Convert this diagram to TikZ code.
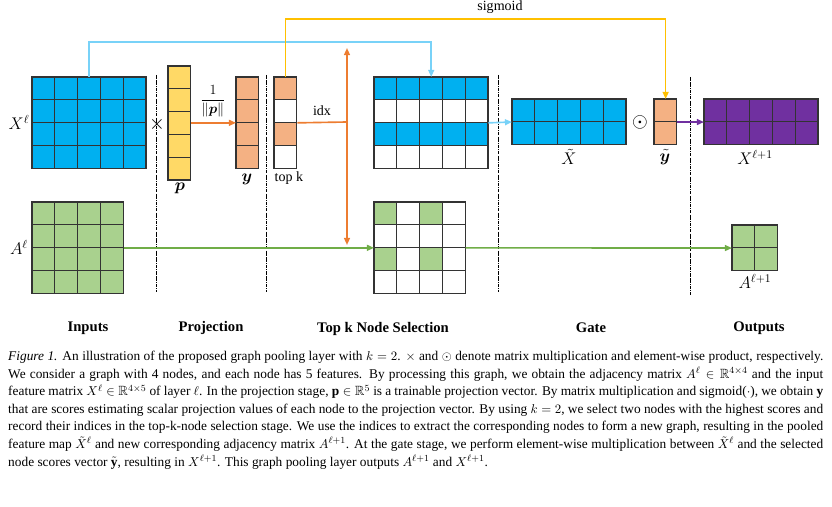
\documentclass[tikz,border=0pt]{standalone}
\usepackage{amsmath,amssymb,bm}
\usepackage{fontspec}
\setmainfont{Liberation Serif}
\usetikzlibrary{arrows.meta}

\definecolor{cblue}{RGB}{0,176,240}
\definecolor{lblue}{RGB}{120,210,248}
\definecolor{cyellow}{RGB}{255,217,102}
\definecolor{lyellow}{RGB}{255,192,0}
\definecolor{corange}{RGB}{244,177,131}
\definecolor{lorange}{RGB}{237,125,49}
\definecolor{cgreen}{RGB}{169,209,142}
\definecolor{lgreen}{RGB}{112,173,71}
\definecolor{cpurple}{RGB}{112,48,160}

\def\cw{22.8}
% grid lines of a block, plus a named node over its extent
\newcommand{\gridbox}[5]{%
  \foreach \i in {1,...,#4}
    \foreach \j in {1,...,#5}
      \draw[cell] ({#2+(\i-1)*\cw},{#3+(\j-1)*\cw}) rectangle ++(\cw,\cw);
  \node[inner sep=0pt, minimum width={#4*\cw*0.03cm}, minimum height={#5*\cw*0.03cm},
        anchor=north west] (#1) at (#2,#3) {};}
% one filled cell
\newcommand{\fillcell}[4]{%
  \fill[#4] ({#1+(#2-1)*\cw},{#3}) rectangle ++(\cw,\cw);}

\begin{document}
\begin{tikzpicture}[
    x=0.03cm, y=-0.03cm,
    >={Triangle[length=6pt,width=5pt]},
    cell/.style={draw=black!80, line width=1pt},
    stage/.style={font=\bfseries\fontsize{12.5}{15}\selectfont},
    sep/.style={densely dash dot, line width=0.6pt},
    link/.style={line width=1.4pt},
  ]
  \useasboundingbox (0,0) rectangle (832,507);

  % fills
  \fill[cblue] (32,77) rectangle ++(5*\cw,4*\cw);
  \fill[cyellow] (168,66) rectangle ++(\cw,5*\cw);
  \fill[corange] (236,77) rectangle ++(\cw,4*\cw);
  \fill[corange] (274,77) rectangle ++(\cw,\cw);
  \fill[corange] (274,{77+2*\cw}) rectangle ++(\cw,\cw);
  \fill[cgreen] (32,202) rectangle ++(4*\cw,4*\cw);
  \fill[cblue] (374,77) rectangle ++(5*\cw,\cw);
  \fill[cblue] (374,{77+2*\cw}) rectangle ++(5*\cw,\cw);
  \foreach \c in {1,3}{
    \fillcell{374}{\c}{202}{cgreen}
    \fillcell{374}{\c}{{202+2*\cw}}{cgreen}
  }
  \fill[cblue] (512,99) rectangle ++(5*\cw,2*\cw);
  \fill[corange] (654,99) rectangle ++(\cw,2*\cw);
  \fill[cpurple] (704,99) rectangle ++(5*\cw,2*\cw);
  \fill[cgreen] (732,225) rectangle ++(2*\cw,2*\cw);

  % blocks
  \gridbox{Xin}{32}{77}{5}{4}
  \gridbox{pvec}{168}{66}{1}{5}
  \gridbox{yvec}{236}{77}{1}{4}
  \gridbox{topk}{274}{77}{1}{4}
  \gridbox{Ain}{32}{202}{4}{4}
  \gridbox{Xsel}{374}{77}{5}{4}
  \gridbox{Asel}{374}{202}{4}{4}
  \gridbox{Xtil}{512}{99}{5}{2}
  \gridbox{ytil}{654}{99}{1}{2}
  \gridbox{Xout}{704}{99}{5}{2}
  \gridbox{Aout}{732}{225}{2}{2}

  % stage separators
  \draw[sep] (156,75) -- (156,292);
  \draw[sep] (266,75) -- (266,292);
  \draw[sep] (498,75) -- (498,292);
  \draw[sep] (690,77) -- (690,295);

  % labels
  \node (lXin) at (19,122) {\Large$X^{\ell}$};
  \node (lAin) at (19,247) {\Large$A^{\ell}$};
  \node (times) at (157,124) {\LARGE$\times$};
  \node (lp) at (180,188) {\Large$\bm{p}$};
  \node (ly) at (247,179) {\Large$\bm{y}$};
  \node (ltopk) at (289,178) {\large top k};
  \node (lnorm) at (213,101) {\large$\dfrac{1}{\|\bm{p}\|}$};
  \node (lidx) at (322,111) {\large idx};
  \node (lXtil) at (569,157) {\Large$\tilde{X}$};
  \node (lytil) at (665,157) {\Large$\tilde{\bm{y}}$};
  \node (odot) at (640,122) {\LARGE$\odot$};
  \node (lXout) at (755,157) {\Large$X^{\ell+1}$};
  \node (lAout) at (755,281) {\Large$A^{\ell+1}$};
  \node (lsig) at (500,7) {\large sigmoid};

  \node[stage] (sIn) at (88,328) {Inputs};
  \node[stage] (sProj) at (211,328) {Projection};
  \node[stage] (sTop) at (383,329) {Top k Node Selection};
  \node[stage] (sGate) at (591,328) {Gate};
  \node[stage] (sOut) at (759,328) {Outputs};

  % connectors
  \coordinate (idxJ) at (347,122);
  \coordinate (idxT) at (347,48);
  \coordinate (idxB) at (347,245);
  \draw[link, lorange, ->] (pvec.east |- yvec.west) -- (yvec.west);
  \draw[link, lorange] (topk.east) -- (idxJ);
  \draw[link, lorange, <->] (idxT) -- (idxB);
  \draw[link, lgreen, ->] (Ain.east) -- (Asel.west);
  \draw[link, lgreen, ->] (Asel.east) -- (Aout.west);
  \draw[link, lblue, ->] (Xin.north) |- ++(0,-35) -| (Xsel.north);
  \draw[link, lblue, ->] (Xsel.east) -- (Xtil.west);
  \draw[link, lyellow, ->] (topk.north) |- ++(0,-58) -| (ytil.north);
  \draw[link, cpurple, ->] (ytil.east) -- (Xout.west);

  % caption
  \node[anchor=north west, text width=24.45cm, align=justify, inner sep=0pt,
        font=\fontsize{11.4}{15}\selectfont] (caption) at (8,351) {%
    \textit{Figure 1.} An illustration of the proposed graph pooling layer with $k=2$. $\times$ and $\odot$ denote matrix multiplication and element-wise product, respectively. We consider a graph with 4 nodes, and each node has 5 features. By processing this graph, we obtain the adjacency matrix $A^{\ell}\in\mathbb{R}^{4\times4}$ and the input feature matrix $X^{\ell}\in\mathbb{R}^{4\times5}$ of layer $\ell$. In the projection stage, $\mathbf{p}\in\mathbb{R}^{5}$ is a trainable projection vector. By matrix multiplication and sigmoid($\cdot$), we obtain $\mathbf{y}$ that are scores estimating scalar projection values of each node to the projection vector. By using $k=2$, we select two nodes with the highest scores and record their indices in the top-k-node selection stage. We use the indices to extract the corresponding nodes to form a new graph, resulting in the pooled feature map $\tilde{X}^{\ell}$ and new corresponding adjacency matrix $A^{\ell+1}$. At the gate stage, we perform element-wise multiplication between $\tilde{X}^{\ell}$ and the selected node scores vector $\tilde{\mathbf{y}}$, resulting in $X^{\ell+1}$. This graph pooling layer outputs $A^{\ell+1}$ and $X^{\ell+1}$.};
\end{tikzpicture}
\end{document}
